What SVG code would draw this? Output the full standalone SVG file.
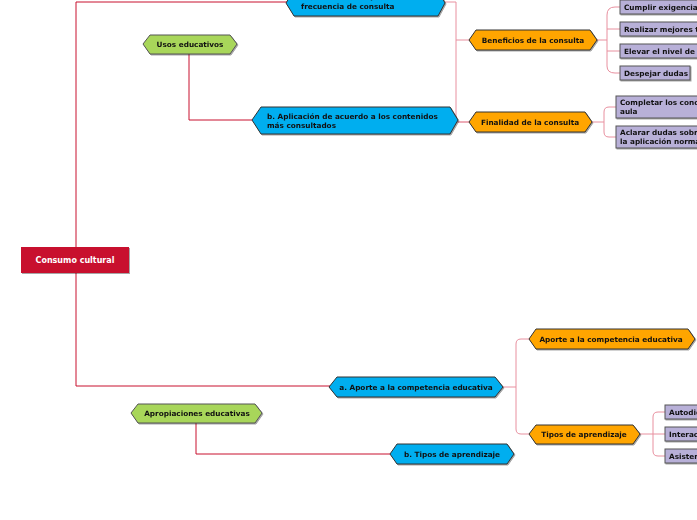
<svg xmlns="http://www.w3.org/2000/svg" width="697" height="520" viewBox="0 0 697 520">
<style>
text{font-family:"DejaVu Sans",Verdana,sans-serif;font-weight:bold;font-size:7.3px;fill:#111}
.c{fill:none;stroke:#c8102e;stroke-width:1}
.cl{fill:none;stroke:#e8909f;stroke-width:1}
.blue{fill:#00aeef;stroke:#333;stroke-width:1}
.or{fill:#ffa500;stroke:#333;stroke-width:1}
.gr{fill:#a8d65a;stroke:#555;stroke-width:1}
.lf{fill:#b8b0d8;stroke:#555;stroke-width:1}
.sh{filter:drop-shadow(1px 1px 0.6px rgba(0,0,0,0.35))}
</style>
<rect width="697" height="520" fill="#fff"/>
<g id="connectors">
<path class="c" d="M76 247V2H290M76 273V386H330"/>
<path class="cl" d="M445 2H456V118M456 40H469M456 122H469M458 122H469"/>
<path class="c" d="M189 54V120H252"/>
<path class="cl" d="M597 40H607M607 40V15Q607 7 615 7H620M607 29H620M607 51H620M607 40V66Q607 73 615 73H620"/>
<path class="cl" d="M592 122H604M604 122V112Q604 107 609 107H616M604 122V132Q604 137 609 137H616"/>
<path class="cl" d="M503 387H516V344Q516 339 521 339H529M516 387V429Q516 434 521 434H529"/>
<path class="cl" d="M640 434H653V417Q653 412 658 412H665M653 434H665M653 434V451Q653 456 658 456H665"/>
<path class="c" d="M196 423V454H390"/>
</g>
<g id="root"><rect x="21" y="247" width="108" height="26" fill="#c8102e" class="sh"/><text x="75" y="263" text-anchor="middle" style="fill:#fff;font-size:8px">Consumo cultural</text></g>
<g id="n-a1" class="sh"><polygon class="blue" points="294,-10 438,-10 445,3 438,16 294,16 286,3"/><text x="301" y="-1">a. Acercamiento por la</text><text x="301" y="9">frecuencia de consulta</text></g>
<g id="n-benef" class="sh"><polygon class="or" points="476,30 590,30 597,40 590,50 476,50 469,40"/><text x="533" y="43" text-anchor="middle">Beneficios de la consulta</text></g>
<g id="n-final" class="sh"><polygon class="or" points="476,112 585,112 592,122 585,132 476,132 469,122"/><text x="530" y="125" text-anchor="middle">Finalidad de la consulta</text></g>
<g id="n-b1" class="sh"><polygon class="blue" points="261,107 450,107 458,120 450,134 261,134 252,120"/><text x="267" y="119">b. Aplicación de acuerdo a los contenidos</text><text x="267" y="128">más consultados</text></g>
<g id="n-usos" class="sh"><polygon class="gr" points="150,35 230,35 237,44 230,54 150,54 143,44"/><text x="190" y="47" text-anchor="middle">Usos educativos</text></g>
<g id="l1" class="sh"><rect class="lf" x="620" y="0" width="90" height="14"/><text x="624" y="10">Cumplir exigencias</text></g>
<g id="l2" class="sh"><rect class="lf" x="620" y="22" width="90" height="14"/><text x="624" y="32">Realizar mejores t</text></g>
<g id="l3" class="sh"><rect class="lf" x="620" y="44" width="90" height="14"/><text x="624" y="54">Elevar el nivel de a</text></g>
<g id="l4" class="sh"><rect class="lf" x="620" y="66" width="70" height="14"/><text x="624" y="76">Despejar dudas</text></g>
<g id="l5" class="sh"><rect class="lf" x="616" y="96" width="90" height="22"/><text x="620" y="105">Completar los conoc</text><text x="620" y="114">aula</text></g>
<g id="l6" class="sh"><rect class="lf" x="616" y="126" width="90" height="22"/><text x="620" y="135">Aclarar dudas sobre</text><text x="620" y="144">la aplicación norma</text></g>
<g id="n-a2" class="sh"><polygon class="blue" points="337,377 495,377 503,387 495,397 337,397 329,387"/><text x="416" y="390" text-anchor="middle">a. Aporte a la competencia educativa</text></g>
<g id="n-aporte" class="sh"><polygon class="or" points="536,329 688,329 695,339 688,349 536,349 529,339"/><text x="611" y="342" text-anchor="middle">Aporte a la competencia educativa</text></g>
<g id="n-tipos" class="sh"><polygon class="or" points="536,425 633,425 640,434 633,444 536,444 529,434"/><text x="584" y="437" text-anchor="middle">Tipos de aprendizaje</text></g>
<g id="l7" class="sh"><rect class="lf" x="665" y="405" width="50" height="14"/><text x="669" y="415">Autodid</text></g>
<g id="l8" class="sh"><rect class="lf" x="665" y="427" width="50" height="14"/><text x="669" y="437">Interac</text></g>
<g id="l9" class="sh"><rect class="lf" x="665" y="449" width="50" height="14"/><text x="669" y="459">Asisten</text></g>
<g id="n-aprop" class="sh"><polygon class="gr" points="138,404 255,404 262,413 255,423 138,423 131,413"/><text x="197" y="416" text-anchor="middle">Apropiaciones educativas</text></g>
<g id="n-b2" class="sh"><polygon class="blue" points="397,444 507,444 514,454 507,464 397,464 390,454"/><text x="452" y="457" text-anchor="middle">b. Tipos de  aprendizaje</text></g>
</svg>
